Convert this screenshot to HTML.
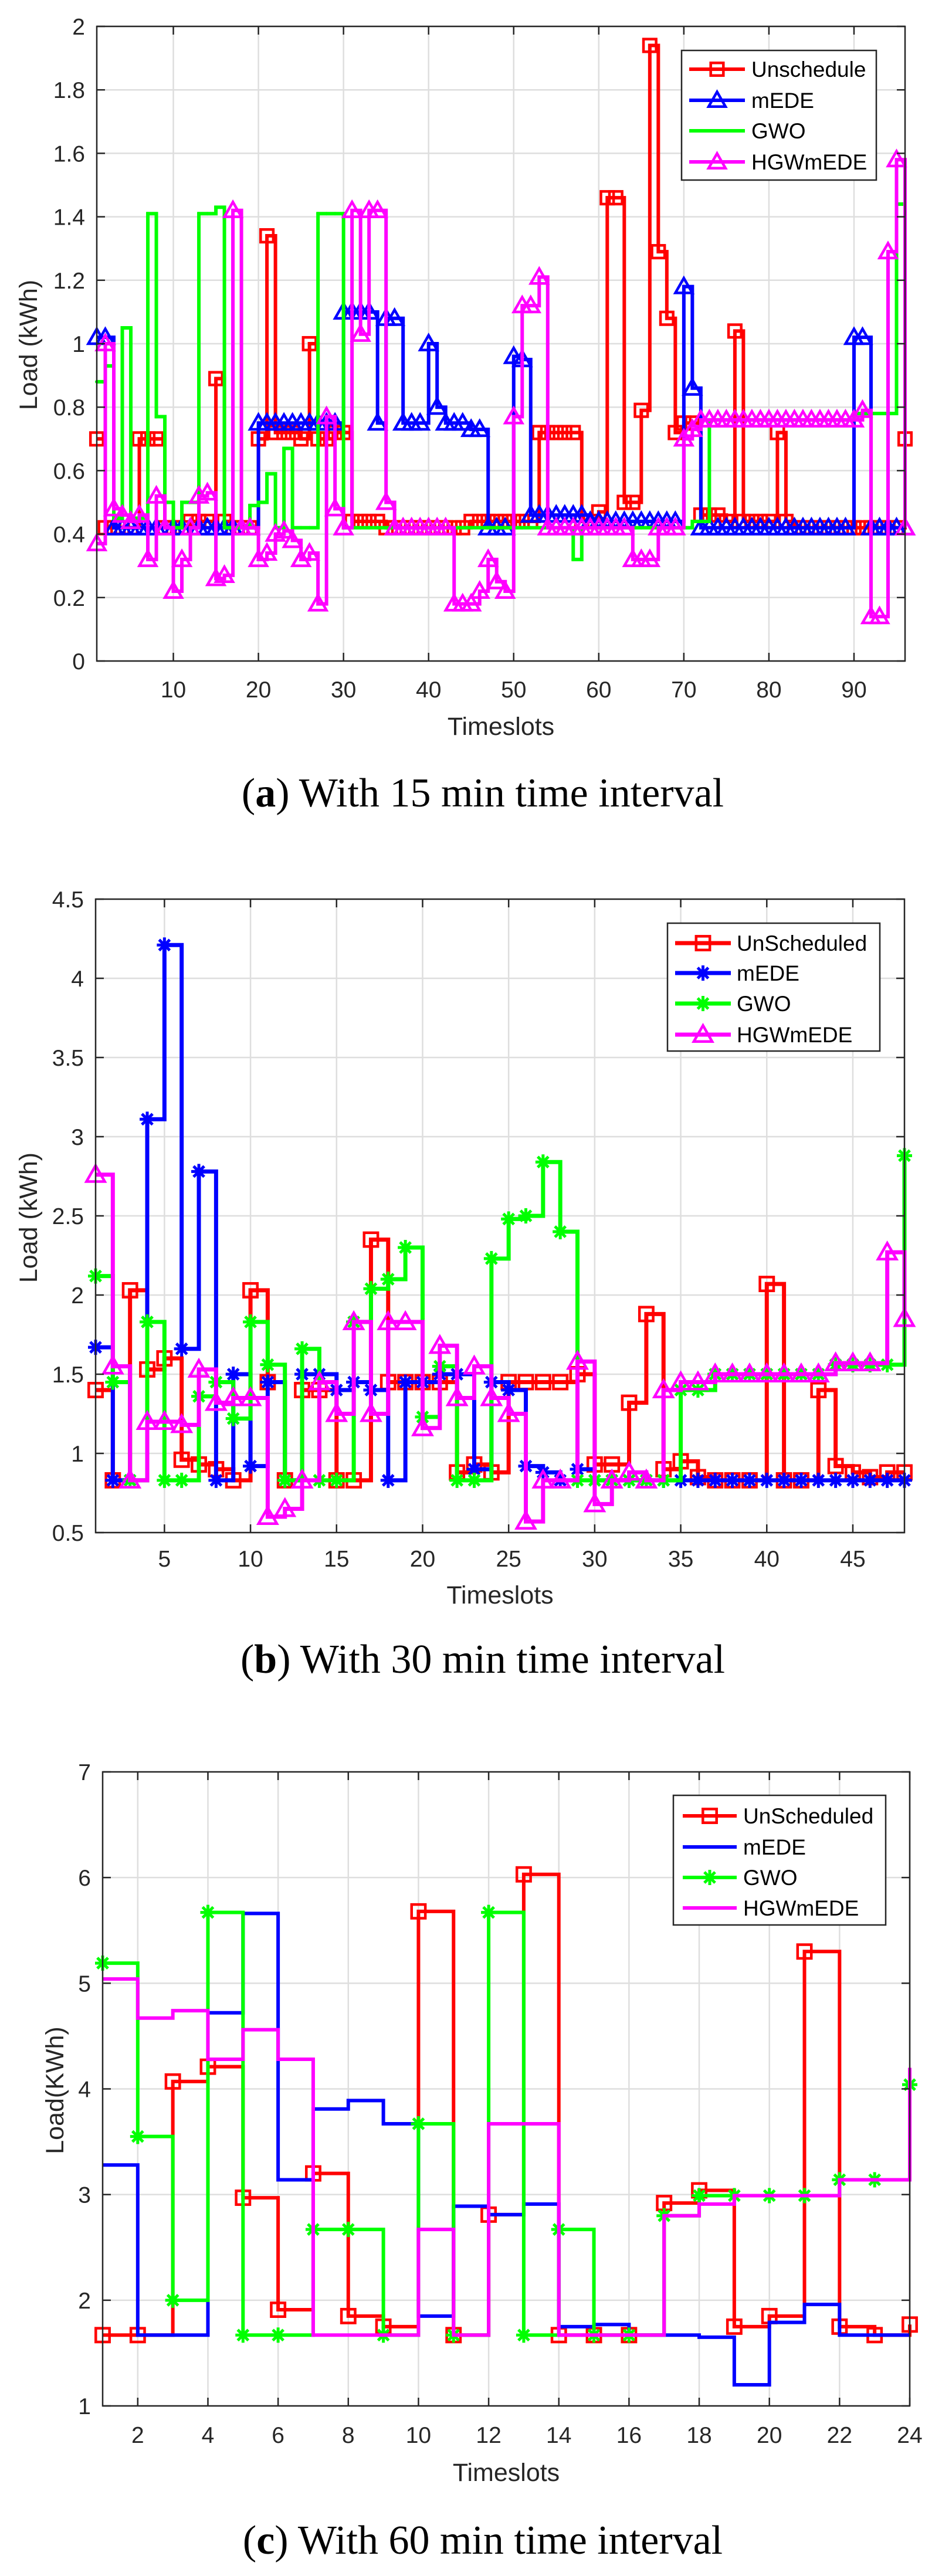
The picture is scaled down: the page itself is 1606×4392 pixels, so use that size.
<!DOCTYPE html>
<html><head><meta charset="utf-8"><style>
html,body{margin:0;padding:0;background:#fff;}
svg{display:block;}
text{font-family:"Liberation Sans",sans-serif;fill:#262626;}
</style></head><body>
<svg id="s" width="1606" height="4392" viewBox="0 0 1606 4392" xmlns="http://www.w3.org/2000/svg"></svg>
<script>
var S=document.getElementById('s');var out='';
function P(cfg){
 var L=cfg.L,R=cfg.R,T=cfg.T,B=cfg.B;
 function X(v){return L+(v-cfg.x0)/(cfg.x1-cfg.x0)*(R-L);}
 function Y(v){return B-(v-cfg.y0)/(cfg.y1-cfg.y0)*(B-T);}
 var o='<rect x="'+L+'" y="'+T+'" width="'+(R-L)+'" height="'+(B-T)+'" fill="#fff"/>';
 cfg.xt.forEach(function(v){var x=X(v);o+='<line x1="'+x+'" y1="'+T+'" x2="'+x+'" y2="'+B+'" stroke="#dedede" stroke-width="2.5"/>';});
 cfg.yt.forEach(function(v){var y=Y(v);o+='<line x1="'+L+'" y1="'+y+'" x2="'+R+'" y2="'+y+'" stroke="#dedede" stroke-width="2.5"/>';});
 cfg.series.forEach(function(s){
  var d='M'+X(1)+' '+Y(s.d[0]);
  for(var i=1;i<s.d.length;i++){d+=' H'+X(i+1)+' V'+Y(s.d[i]);}
  o+='<path d="'+d+'" fill="none" stroke="'+s.c+'" stroke-width="'+cfg.lw+'" stroke-linejoin="miter"/>';
  if(s.m){for(var i=0;i<s.d.length;i++){o+=mk(s.m,X(i+1),Y(s.d[i]),s.c,cfg.ms);}}
 });
 o+='<rect x="'+L+'" y="'+T+'" width="'+(R-L)+'" height="'+(B-T)+'" fill="none" stroke="#262626" stroke-width="2.5"/>';
 cfg.xt.forEach(function(v){var x=X(v);o+='<line x1="'+x+'" y1="'+B+'" x2="'+x+'" y2="'+(B-14)+'" stroke="#262626" stroke-width="2.5"/><line x1="'+x+'" y1="'+T+'" x2="'+x+'" y2="'+(T+14)+'" stroke="#262626" stroke-width="2.5"/>';
  o+='<text x="'+x+'" y="'+(cfg.xly+14)+'" font-size="39" text-anchor="middle">'+v+'</text>';});
 cfg.yt.forEach(function(v){var y=Y(v);o+='<line x1="'+L+'" y1="'+y+'" x2="'+(L+14)+'" y2="'+y+'" stroke="#262626" stroke-width="2.5"/><line x1="'+R+'" y1="'+y+'" x2="'+(R-14)+'" y2="'+y+'" stroke="#262626" stroke-width="2.5"/>';
  o+='<text x="'+(L-20)+'" y="'+(y+14)+'" font-size="39" text-anchor="end">'+v+'</text>';});
 o+='<text x="'+((L+R)/2)+'" y="'+(cfg.tsy+15)+'" font-size="43" text-anchor="middle">Timeslots</text>';
 o+='<text transform="translate('+(cfg.ylx+15)+','+cfg.yly+') rotate(-90)" font-size="43" text-anchor="middle">'+cfg.ylab+'</text>';
 var lg=cfg.lg;
 o+='<rect x="'+lg.x+'" y="'+lg.y+'" width="'+lg.w+'" height="'+lg.h+'" fill="#fff" stroke="#262626" stroke-width="2.5"/>';
 cfg.series.forEach(function(s,i){var y=lg.rows[i];
  o+='<line x1="'+lg.l1+'" y1="'+y+'" x2="'+lg.l2+'" y2="'+y+'" stroke="'+s.c+'" stroke-width="'+cfg.lw+'"/>';
  if(s.m)o+=mk(s.m,(lg.l1+lg.l2)/2,y,s.c,cfg.ms);
  o+='<text x="'+lg.tx+'" y="'+(y+13)+'" font-size="37" fill="#000" style="fill:#000">'+s.n+'</text>';});
 o+='<text x="823" y="'+cfg.capy+'" font-size="70" text-anchor="middle" style="font-family:\'Liberation Serif\',serif;fill:#000">(<tspan font-weight="bold">'+cfg.cl+'</tspan>) With '+cfg.ct+' min time interval</text>';
 return o;
}
function mk(t,x,y,c,s){
 if(t=='s'){var h=s*0.45;return '<rect x="'+(x-h)+'" y="'+(y-h)+'" width="'+(2*h)+'" height="'+(2*h)+'" fill="none" stroke="'+c+'" stroke-width="4.5"/>';}
 if(t=='t'){var h=s*0.6;return '<polygon points="'+x+','+(y-h)+' '+(x+h)+','+(y+h*0.75)+' '+(x-h)+','+(y+h*0.75)+'" fill="none" stroke="'+c+'" stroke-width="4.5"/>';}
 if(t=='d'){return '<circle cx="'+x+'" cy="'+y+'" r="3" fill="'+c+'"/>';}
 if(t=='a'){var h=s*0.5,o='';[[h,0],[0,h],[h*0.7,h*0.7],[h*0.7,-h*0.7]].forEach(function(p){o+='<line x1="'+(x-p[0])+'" y1="'+(y-p[1])+'" x2="'+(x+p[0])+'" y2="'+(y+p[1])+'" stroke="'+c+'" stroke-width="5"/>';});return o;}
 return '';
}
function rng(a,b,s){var r=[];for(var v=a;v<=b+1e-9;v+=s)r.push(Math.round(v*10)/10);return r;}
// Chart A data
var aR=[0.70,0.42,0.42,0.42,0.42,0.70,0.70,0.70,0.42,0.42,0.42,0.44,0.44,0.44,0.89,0.44,0.42,0.42,0.42,0.70,1.34,0.72,0.72,0.72,0.70,1.00,0.70,0.70,0.72,0.72,0.44,0.44,0.44,0.44,0.42,0.42,0.42,0.42,0.42,0.42,0.42,0.42,0.42,0.42,0.44,0.44,0.44,0.44,0.44,0.44,0.44,0.44,0.72,0.72,0.72,0.72,0.72,0.44,0.44,0.47,1.46,1.46,0.50,0.50,0.79,1.94,1.29,1.08,0.72,0.75,0.75,0.46,0.46,0.46,0.44,1.04,0.44,0.44,0.44,0.44,0.72,0.44,0.42,0.42,0.42,0.42,0.42,0.42,0.42,0.42,0.42,0.42,0.42,0.42,0.42,0.70];
var aB=[1.02,1.02,0.42,0.42,0.42,0.42,0.42,0.42,0.42,0.42,0.42,0.42,0.42,0.42,0.42,0.42,0.42,0.42,0.42,0.75,0.75,0.75,0.75,0.75,0.75,0.75,0.75,0.75,0.75,1.10,1.10,1.10,1.10,0.75,1.08,1.08,0.75,0.75,0.75,1.00,0.80,0.75,0.75,0.75,0.73,0.73,0.42,0.42,0.42,0.96,0.95,0.46,0.46,0.46,0.46,0.46,0.46,0.46,0.44,0.44,0.44,0.44,0.44,0.44,0.44,0.44,0.44,0.44,0.44,1.18,0.86,0.42,0.42,0.42,0.42,0.42,0.42,0.42,0.42,0.42,0.42,0.42,0.42,0.42,0.42,0.42,0.42,0.42,0.42,1.02,1.02,0.42,0.42,0.42,0.42,0.42];
var aG=[0.88,0.93,0.45,1.05,0.45,0.45,1.41,0.77,0.50,0.42,0.50,0.50,1.41,1.41,1.43,0.42,0.42,0.42,0.49,0.50,0.59,0.42,0.67,0.42,0.42,0.42,1.41,1.41,1.41,0.42];
for(var i=30;i<56;i++)aG.push(0.42);aG.push(0.32);for(var i=57;i<70;i++)aG.push(0.42);aG.push(0.44,0.44);for(var i=72;i<89;i++)aG.push(0.76);for(var i=89;i<94;i++)aG.push(0.78);aG.push(1.44,1.44);
var aM=[0.37,1.00,0.48,0.46,0.44,0.46,0.32,0.52,0.42,0.22,0.32,0.42,0.52,0.53,0.26,0.27,1.42,0.42,0.42,0.32,0.34,0.40,0.41,0.38,0.32,0.34,0.18,0.77,0.48,0.42,1.42,1.03,1.42,1.42,0.50,0.42,0.42,0.42,0.42,0.42,0.42,0.42,0.18,0.18,0.18,0.22,0.32,0.25,0.22,0.77,1.12,1.12,1.21,0.42,0.42,0.42,0.42,0.42,0.42,0.42,0.42,0.42,0.42,0.32,0.32,0.32,0.42,0.42,0.42,0.70,0.73];
for(var i=71;i<90;i++)aM.push(0.76);aM.push(0.79,0.14,0.14,1.29,1.58,0.42);
out+=P({L:165,R:1543,T:45,B:1127,x0:1,x1:96,y0:0,y1:2,xt:[10,20,30,40,50,60,70,80,90],yt:rng(0,2,0.2),lw:6,ms:24,
 xly:1175,tsy:1238,ylx:48,yly:588,ylab:'Load (kWh)',capy:1375,cl:'a',ct:'15',
 lg:{x:1162,y:86,w:332,h:221,rows:[118,171,223,276],l1:1175,l2:1270,tx:1281},
 series:[{n:'Unschedule',c:'#ff0000',m:'s',d:aR},{n:'mEDE',c:'#0000ff',m:'t',d:aB},{n:'GWO',c:'#00ff00',m:'d',d:aG},{n:'HGWmEDE',c:'#ff00ff',m:'t',d:aM}]});
// Chart B
var bR=[1.40,0.83,2.03,1.53,1.60,0.96,0.93,0.90,0.83,2.03,1.45,0.83,1.40,1.40,0.83,0.83,2.35,1.45,1.45,1.45,1.45,0.88,0.93,0.88,1.45,1.45,1.45,1.45,1.50,0.93,0.93,1.32,1.88,0.90,0.95,0.85,0.83,0.83,0.83,2.07,0.83,0.83,1.40,0.92,0.88,0.85,0.88,0.88];
var bB=[1.67,0.83,0.83,3.11,4.21,1.66,2.78,0.83,1.50,0.92,1.45,0.83,1.50,1.50,1.40,1.45,1.40,0.83,1.45,1.45,1.50,1.50,0.90,1.45,1.40,0.92,0.88,0.83,0.90,0.83];
for(var i=30;i<48;i++)bB.push(0.83);
var bG=[2.12,1.45,0.83,1.83,0.83,0.83,1.36,1.45,1.22,1.83,1.56,0.83,1.66,0.83,0.83,1.83,2.04,2.10,2.30,1.23,1.55,0.83,0.83,2.23,2.48,2.50,2.84,2.40,0.83,0.83,0.83,0.83,0.83,0.83,1.40,1.40,1.50,1.50,1.50,1.50,1.50,1.50,1.50,1.56,1.56,1.56,1.56,2.88];
var bM=[2.76,1.55,0.83,1.20,1.20,1.18,1.53,1.32,1.35,1.35,0.60,0.65,0.83,1.45,1.25,1.83,1.25,1.83,1.83,1.16,1.68,1.35,1.55,1.35,1.25,0.57,0.83,0.83,1.58,0.68,0.83,0.88,0.83,1.40,1.45,1.45,1.50,1.50,1.50,1.50,1.50,1.50,1.50,1.57,1.57,1.57,2.27,1.85];
out+=P({L:163,R:1542,T:1533,B:2613,x0:1,x1:48,y0:0.5,y1:4.5,xt:[5,10,15,20,25,30,35,40,45],yt:rng(0.5,4.5,0.5),lw:7,ms:26,
 xly:2657,tsy:2719,ylx:48,yly:2076,ylab:'Load (kWh)',capy:2852,cl:'b',ct:'30',
 lg:{x:1138,y:1574,w:362,h:218,rows:[1608,1659,1711,1764],l1:1151,l2:1246,tx:1256},
 series:[{n:'UnScheduled',c:'#ff0000',m:'s',d:bR},{n:'mEDE',c:'#0000ff',m:'a',d:bB},{n:'GWO',c:'#00ff00',m:'a',d:bG},{n:'HGWmEDE',c:'#ff00ff',m:'t',d:bM}]});
// Chart C
var cR=[1.67,1.67,4.07,4.21,2.97,1.91,3.20,1.85,1.75,5.68,1.67,2.81,6.03,1.67,1.67,1.67,2.92,3.04,1.75,1.85,5.30,1.75,1.67,1.77];
var cB=[3.28,1.67,1.67,4.72,5.66,3.14,3.81,3.89,3.67,1.85,2.89,2.81,2.91,1.75,1.77,1.67,1.67,1.65,1.20,1.79,1.96,1.67,1.67,1.67];
var cG=[5.19,3.55,2.00,5.67,1.67,1.67,2.67,2.67,1.67,3.67,1.67,5.67,1.67,2.67,1.67,1.67,2.80,2.99,2.99,2.99,2.99,3.14,3.14,4.04];
var cM=[5.04,4.67,4.74,4.28,4.56,4.28,1.67,1.67,1.67,2.67,1.67,3.67,3.67,1.67,1.67,1.67,2.80,2.91,2.99,2.99,2.99,3.14,3.14,4.20];
out+=P({L:175,R:1551,T:3021,B:4102,x0:1,x1:24,y0:1,y1:7,xt:[2,4,6,8,10,12,14,16,18,20,22,24],yt:[1,2,3,4,5,6,7],lw:6,ms:26,
 xly:4151,tsy:4215,ylx:93,yly:3564,ylab:'Load(KWh)',capy:4354,cl:'c',ct:'60',
 lg:{x:1148,y:3061,w:362,h:221,rows:[3096,3149,3201,3253],l1:1164,l2:1256,tx:1267},
 series:[{n:'UnScheduled',c:'#ff0000',m:'s',d:cR},{n:'mEDE',c:'#0000ff',m:null,d:cB},{n:'GWO',c:'#00ff00',m:'a',d:cG},{n:'HGWmEDE',c:'#ff00ff',m:null,d:cM}]});
S.innerHTML=out;
</script>
</body></html>
